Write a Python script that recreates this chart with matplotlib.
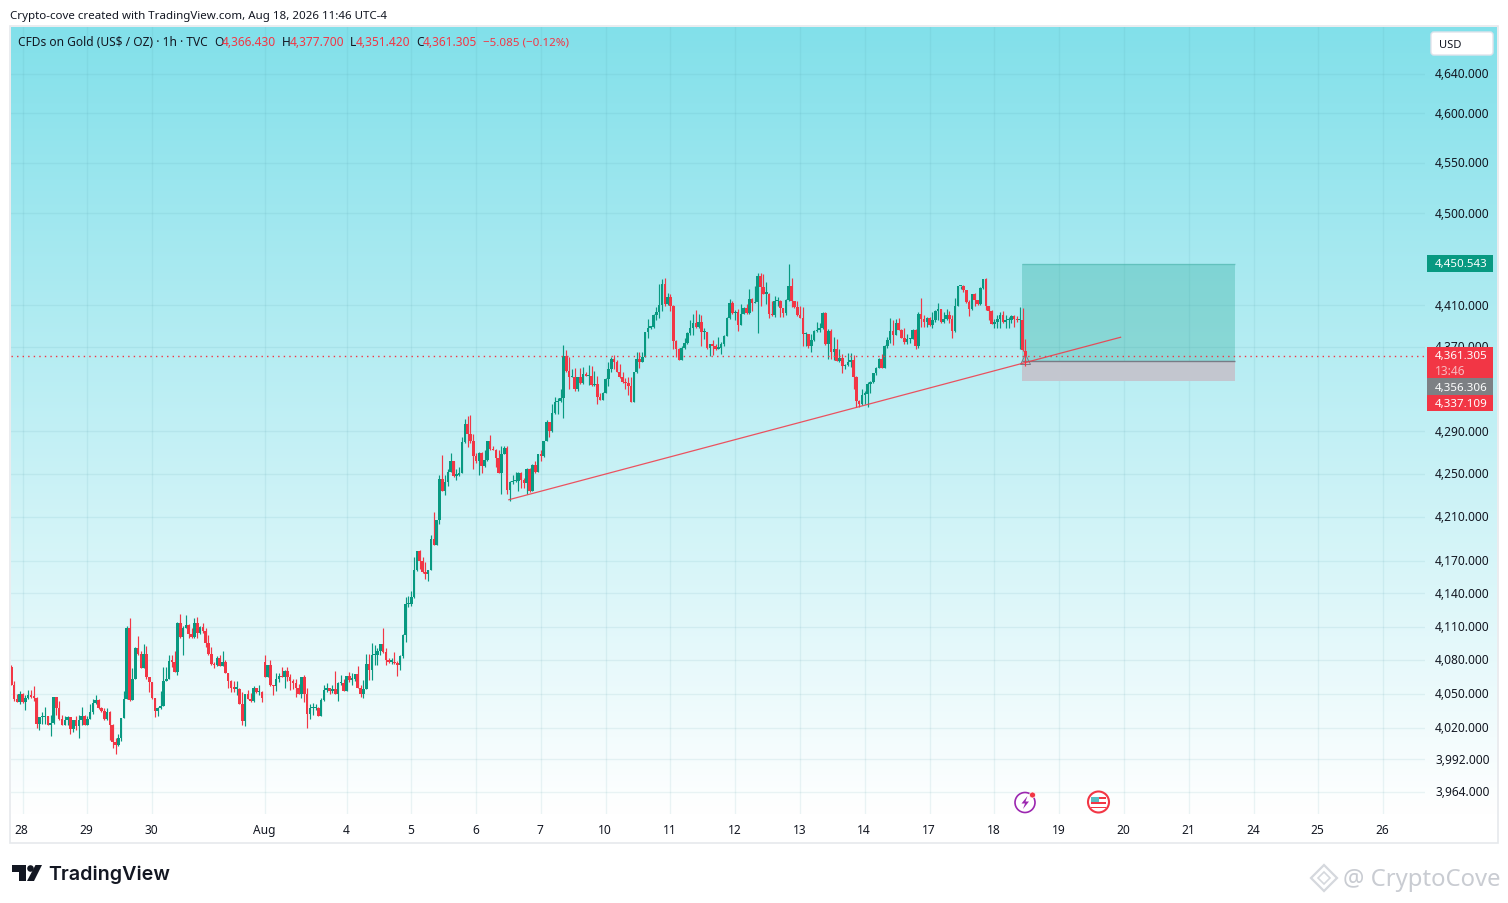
import numpy as np
import matplotlib
matplotlib.use("Agg")
import matplotlib.pyplot as plt
from matplotlib.patches import Rectangle, Circle, Polygon, FancyBboxPatch
from matplotlib.ticker import NullFormatter, NullLocator, FixedLocator, FixedFormatter
from matplotlib.transforms import ScaledTranslation

closes = [
 4056,4044,4041,4048,4041,4045,4047,4046,4045,4022, 4028,4028,4029,4021,4023,4046,4036,4026,4021,4025,
 4028,4017,4025,4020,4025,4029,4021,4026,4032,4040, 4043,4036,4033,4026,4032,4021,4006,4003,4009,4027,
 4044,4107,4043,4062,4089,4084,4071,4084,4063,4059, 4045,4033,4036,4038,4060,4062,4078,4077,4068,4112,
 4099,4107,4110,4102,4099,4112,4103,4108,4105,4094, 4084,4075,4074,4080,4073,4077,4067,4060,4054,4053,
 4053,4039,4024,4048,4044,4042,4054,4050,4050,4045, 4063,4074,4056,4055,4062,4064,4063,4069,4063,4060,
 4058,4054,4048,4063,4048,4031,4036,4036,4036,4029, 4043,4052,4054,4051,4053,4048,4058,4058,4051,4064,
 4061,4062,4066,4054,4048,4053,4075,4070,4083,4083, 4087,4093,4086,4079,4077,4077,4076,4074,4082,4101,
 4129,4129,4135,4160,4177,4168,4158,4156,4160,4188, 4183,4206,4244,4233,4241,4250,4261,4247,4248,4249,
 4278,4295,4286,4279,4265,4261,4268,4256,4262,4279, 4272,4271,4263,4249,4267,4273,4234,4241,4242,4242,
 4249,4243,4240,4253,4233,4257,4250,4267,4265,4279, 4297,4289,4306,4316,4317,4320,4360,4346,4340,4340,
 4328,4340,4334,4343,4341,4341,4332,4333,4321,4318, 4325,4338,4347,4357,4354,4345,4340,4335,4334,4331,
 4316,4345,4357,4354,4359,4383,4387,4388,4399,4402, 4409,4429,4410,4417,4408,4374,4367,4356,4368,4372,
 4382,4387,4392,4388,4393,4383,4383,4368,4371,4369, 4367,4368,4371,4379,4396,4411,4401,4402,4390,4400,
 4406,4401,4415,4411,4412,4437,4426,4420,4420,4400, 4399,4413,4413,4406,4401,4414,4427,4413,4407,4399,
 4396,4381,4381,4369,4375,4384,4385,4387,4401,4371, 4384,4364,4367,4355,4358,4350,4351,4354,4356,4340,
 4317,4314,4323,4324,4333,4335,4344,4348,4357,4348, 4369,4375,4384,4380,4392,4385,4377,4373,4376,4376,
 4385,4369,4400,4395,4393,4396,4390,4394,4403,4405, 4393,4395,4399,4395,4384,4408,4427,4427,4423,4412,
 4405,4420,4414,4410,4425,4434,4408,4403,4391,4393, 4395,4399,4393,4394,4394,4398,4395,4394,4394,4366,
 4361.305]
highs = [
 4074,4060,4048,4051,4049,4047,4052,4052,4055,4046, 4028,4032,4037,4029,4030,4046,4046,4042,4030,4029,
 4029,4028,4025,4029,4030,4037,4030,4029,4039,4044, 4047,4044,4037,4036,4036,4033,4022,4009,4013,4027,
 4051,4109,4116,4071,4090,4100,4087,4093,4091,4063, 4059,4045,4037,4051,4072,4072,4083,4083,4087,4113,
 4120,4109,4119,4111,4107,4116,4117,4109,4112,4107, 4101,4090,4077,4082,4083,4087,4079,4067,4061,4060,
 4060,4054,4050,4048,4052,4049,4055,4054,4056,4051, 4083,4074,4079,4056,4067,4067,4072,4070,4072,4066,
 4062,4062,4057,4063,4065,4054,4039,4040,4039,4037, 4045,4056,4058,4054,4056,4069,4059,4065,4062,4064,
 4068,4067,4066,4073,4056,4061,4084,4084,4094,4092, 4089,4093,4107,4089,4080,4080,4086,4078,4083,4102,
 4135,4136,4141,4172,4177,4178,4172,4167,4160,4192, 4213,4206,4248,4266,4248,4253,4268,4261,4253,4255,
 4283,4300,4303,4304,4286,4268,4269,4269,4271,4279, 4285,4275,4272,4271,4275,4275,4275,4242,4248,4250,
 4250,4250,4245,4254,4254,4258,4261,4267,4271,4279, 4299,4297,4314,4321,4320,4328,4370,4366,4359,4347,
 4348,4340,4348,4349,4345,4351,4350,4346,4341,4325, 4326,4339,4354,4359,4361,4356,4352,4345,4339,4340,
 4340,4345,4364,4364,4364,4383,4395,4389,4400,4407, 4429,4434,4435,4421,4420,4409,4375,4368,4369,4377,
 4383,4394,4400,4404,4400,4399,4387,4383,4371,4375, 4371,4378,4373,4380,4397,4415,4413,4404,4405,4410,
 4407,4410,4424,4416,4427,4440,4440,4439,4431,4421, 4413,4418,4417,4414,4406,4415,4449,4435,4413,4413,
 4408,4407,4383,4381,4381,4385,4393,4392,4402,4402, 4386,4386,4378,4376,4367,4362,4352,4363,4363,4361,
 4341,4318,4328,4327,4335,4336,4344,4349,4358,4362, 4370,4378,4396,4394,4395,4396,4386,4387,4381,4377,
 4386,4386,4402,4416,4399,4397,4397,4402,4404,4411, 4405,4402,4405,4403,4399,4416,4427,4427,4428,4423,
 4414,4420,4421,4414,4426,4434,4435,4408,4404,4395, 4399,4402,4403,4399,4397,4399,4399,4398,4407,4406,
 4377.7]
lows = [
 4056,4042,4041,4039,4040,4034,4044,4045,4042,4018, 4016,4022,4022,4021,4011,4022,4030,4025,4021,4021,
 4021,4013,4015,4016,4009,4021,4021,4021,4026,4031, 4039,4035,4032,4025,4025,4008,4001,3995,4002,4007,
 4027,4044,4042,4043,4063,4083,4071,4071,4062,4050, 4044,4028,4029,4035,4038,4060,4062,4072,4068,4065,
 4098,4083,4107,4098,4098,4098,4098,4102,4103,4090, 4083,4074,4071,4073,4073,4073,4067,4054,4050,4050,
 4047,4039,4021,4020,4044,4041,4041,4049,4047,4041, 4063,4063,4055,4047,4051,4059,4063,4054,4060,4052,
 4053,4046,4048,4045,4041,4018,4026,4030,4034,4029, 4029,4042,4050,4048,4049,4048,4042,4056,4051,4051,
 4059,4056,4060,4054,4046,4045,4053,4061,4061,4074, 4074,4083,4085,4074,4076,4075,4075,4064,4070,4080,
 4095,4126,4127,4134,4159,4161,4157,4152,4150,4160, 4183,4183,4202,4233,4229,4237,4250,4246,4243,4247,
 4249,4277,4274,4277,4253,4259,4248,4249,4255,4261, 4271,4271,4255,4249,4230,4267,4230,4223,4239,4241,
 4233,4235,4235,4230,4232,4233,4249,4250,4261,4264, 4279,4283,4288,4305,4305,4316,4301,4345,4328,4340,
 4327,4327,4333,4333,4341,4332,4331,4331,4314,4318, 4318,4325,4331,4345,4347,4345,4339,4334,4328,4323,
 4316,4317,4344,4348,4354,4359,4377,4386,4387,4394, 4396,4403,4408,4409,4403,4367,4359,4356,4356,4367,
 4371,4380,4380,4387,4387,4369,4376,4367,4360,4361, 4366,4367,4362,4369,4379,4395,4400,4394,4384,4392,
 4400,4400,4400,4403,4411,4382,4408,4420,4410,4396, 4398,4397,4408,4397,4397,4399,4413,4407,4406,4398,
 4396,4369,4369,4368,4364,4374,4383,4383,4386,4370, 4357,4357,4356,4355,4354,4344,4347,4350,4349,4328,
 4311,4311,4313,4314,4311,4325,4334,4342,4348,4348, 4348,4368,4372,4370,4380,4385,4377,4371,4371,4372,
 4381,4367,4368,4388,4388,4388,4389,4387,4393,4394, 4392,4392,4394,4392,4377,4383,4408,4424,4422,4411,
 4398,4404,4408,4409,4409,4424,4404,4394,4391,4387, 4387,4387,4392,4387,4387,4392,4388,4393,4367,4365,
 4351.42]
session_opens = {0: 4074, 90: 4078, 360: 4366.43}
reading_offset = 1.4   # calibration of the values read above against the true price scale

price_ticks = [4640,4600,4550,4500,4410,4370,4290,4250,4210,4170,4140,4110,4080,4050,4020,3992,3964]
date_pos = [4,27,50,90,119,142,165,188,211,234,257,280,303,326,349,372,395,418,441,464,487]
date_labels = ['28','29','30','Aug','4','5','6','7','10','11','12','13','14','17','18','19','20','21','24','25','26']

last_price = 4361.305
entry_price = 4356.306
target_price = 4450.543
stop_price = 4337.109
position_bars = (358.8, 434.4)
trend_bars = (176.4, 394.0)
trend_prices = (4225.8, 4379.4)

UP = '#089981'; DOWN = '#F23645'; INK = '#131722'
FONT = 'Noto Sans'
plt.rcParams['font.family'] = [FONT, 'DejaVu Sans']
FS = 8.6

W, H = 1508, 904
fig = plt.figure(figsize=(W/100, H/100), dpi=100, facecolor='white')

def rect(l, t, r, b):
    return [l/W, 1-b/H, (r-l)/W, (b-t)/H]

# panel background
bg = fig.add_axes(rect(11, 28, 1497, 843)); bg.set_axis_off()
top = np.array([130, 224, 234])/255; bot = np.array([255, 255, 255])/255
t = np.clip(np.linspace(0, 1, 400)*1.036, 0, 1)[:, None, None]
grad = top*(1-t) + bot*t
bg.imshow(grad, aspect='auto', extent=(0, 1, 0, 1), interpolation='bilinear')

# price chart
ax = fig.add_axes(rect(11, 28, 1425, 815), facecolor='none')
ax.set_yscale('log')
ax.set_xlim(-0.1, 501.85)
ax.set_ylim(3944.5, 4687.6)
ax.yaxis.tick_right()
ax.yaxis.set_major_locator(FixedLocator(price_ticks))
ax.yaxis.set_major_formatter(FixedFormatter([f'{v:,.3f}' for v in price_ticks]))
ax.yaxis.set_minor_locator(NullLocator()); ax.yaxis.set_minor_formatter(NullFormatter())
ax.set_xticks(date_pos); ax.set_xticklabels(date_labels)
ax.tick_params(axis='y', length=0, pad=7.2, labelsize=FS, labelcolor=INK)
ax.tick_params(axis='x', length=0, pad=6.3, labelsize=FS, labelcolor=INK)
for s in ax.spines.values():
    s.set_visible(False)
ax.grid(True, color='#4f9aa8', alpha=0.11, lw=1)
ax.set_axisbelow(True)
up_shift = ScaledTranslation(0, 1.5/100, fig.dpi_scale_trans)
for tk in ax.yaxis.get_major_ticks():
    tk.label2.set_transform(tk.label2.get_transform() + up_shift)
left_shift = ScaledTranslation(-0.8/100, 0, fig.dpi_scale_trans)
for lab in ax.get_xticklabels():
    lab.set_transform(lab.get_transform() + left_shift)

n = len(closes)
idx = np.arange(n)
c = np.array(closes, float) + reading_offset
h = np.array(highs, float) + reading_offset
l = np.array(lows, float) + reading_offset
c[-1], h[-1], l[-1] = closes[-1], highs[-1], lows[-1]
o = np.r_[c[0], c[:-1]]
for k, v in session_opens.items():
    o[k] = v
h = np.maximum.reduce([h, o, c]); l = np.minimum.reduce([l, o, c])
cols = np.where(c >= o, UP, DOWN)

# position tool
ax.fill_between(position_bars, entry_price, target_price, color=UP, alpha=0.25, lw=0, zorder=1.5)
ax.fill_between(position_bars, stop_price, entry_price, color='#c3c6cf', lw=0, zorder=1.5)
ax.plot(position_bars, [target_price]*2, color='#4fb5ae', lw=1, alpha=0.6, zorder=1.6, solid_capstyle='butt')
ax.plot(position_bars, [entry_price]*2, color='#787B86', lw=1, zorder=1.6, solid_capstyle='butt')

ax.vlines(idx, l, h, colors=cols, lw=0.85, zorder=3)
tops = np.maximum(o, c); bots = np.minimum(o, c)
ax.bar(idx, np.maximum(tops-bots, 1.2), bottom=bots, width=0.92, color=cols, lw=0, zorder=3.1)

ax.plot(trend_bars, trend_prices, color='#F23645', lw=0.9, alpha=0.85, zorder=4, solid_capstyle='butt')
ax.plot([360], [entry_price+2], marker='^', ms=7, mfc='none', mec='#787B86', mew=0.7, zorder=2.9)
ax.axhline(last_price, color=DOWN, lw=1, ls=(0, (1, 3)), zorder=4)

# overlay in pixels
ov = fig.add_axes([0, 0, 1, 1], facecolor='none'); ov.set_axis_off()
ov.set_xlim(0, W); ov.set_ylim(H, 0)

def ypx(v):
    return H - ax.transData.transform((0, v))[1]

ov.add_patch(Rectangle((10, 27), 1488, 817, fc='none', ec='#e6e9ec', lw=1.2))

def tag(v, color, ty, y0=None, y1=None):
    y = ypx(v)
    y0 = y-8.5 if y0 is None else y0
    y1 = y+8.5 if y1 is None else y1
    ov.add_patch(Rectangle((1427, y0), 66, y1-y0, fc=color, ec='none', zorder=5))
    ov.text(1435, ty, f'{v:,.3f}', color='white', fontsize=8.3, fontweight='bold', va='center', ha='left', zorder=6)

tag(target_price, UP, 264.3)
tag(last_price, DOWN, 357, 348, 379)
ov.text(1435, 371.5, '13:46', color='#f8b9bf', fontsize=FS, va='center', ha='left', zorder=6)
tag(entry_price, '#7d8084', 388.3, 379, 395.5)
tag(stop_price, DOWN, 405, 395.5, 412)

# USD button
ov.add_patch(FancyBboxPatch((1431, 33), 62, 23, boxstyle='round,pad=0,rounding_size=3', fc='white', ec='#e0e3eb', lw=1, zorder=5))
ov.text(1439, 45.5, 'USD', color=INK, fontsize=8, va='center', ha='left', zorder=6)

# header
ov.text(10, 16.5, 'Crypto-cove created with TradingView.com, Aug 18, 2026 11:46 UTC-4', color=INK, fontsize=8.3, va='center')
ov.text(18, 43, 'CFDs on Gold (US$ / OZ) · 1h · TVC', color=INK, fontsize=FS, va='center')
for x, s, col, fs in [(214, 'O', INK, FS), (222, '4,366.430', DOWN, FS), (282, 'H', INK, FS), (290, '4,377.700', DOWN, FS),
                      (350, 'L', INK, FS), (356, '4,351.420', DOWN, FS), (416, 'C', INK, FS), (423, '4,361.305', DOWN, FS),
                      (483, '−5.085 (−0.12%)', DOWN, 8.3)]:
    ov.text(x, 43, s, color=col, fontsize=fs, va='center')

# event icons
ov.add_patch(Circle((1025, 803.5), 10, fc='white', ec='#9c27b0', lw=1.2, zorder=5))
ov.add_patch(Polygon([(1027.5, 797), (1021.5, 804.5), (1025, 804.5), (1023, 810), (1029, 802.5), (1025.5, 802.5)],
                     closed=True, fc='#9c27b0', ec='none', zorder=6))
ov.add_patch(Circle((1032.5, 796), 3, fc=DOWN, ec='white', lw=0.5, zorder=6))
ov.add_patch(Circle((1098.5, 803), 10.5, fc='white', ec=DOWN, lw=1.5, zorder=5))
for y in (803, 807.5):
    ov.add_patch(Rectangle((1091, y), 15, 1.8, fc=DOWN, ec='none', zorder=6))
ov.add_patch(Rectangle((1091, 797.5), 8, 5, fc='#58bfc4', ec='none', zorder=6))
ov.add_patch(Rectangle((1099, 797.5), 7, 2, fc=DOWN, ec='none', zorder=6))

# TradingView logo
ov.add_patch(Polygon([(12, 866), (26, 866), (26, 882), (19, 882), (19, 872.5), (12, 872.5)], closed=True, fc=INK, ec='none'))
ov.add_patch(Circle((30.5, 869.5), 3.3, fc=INK, ec='none'))
ov.add_patch(Polygon([(35.5, 866), (42, 866), (34, 882), (27, 882)], closed=True, fc=INK, ec='none'))
ov.text(48, 874.5, 'TradingView', color=INK, fontsize=14.2, fontweight='semibold', family='Inter', va='center', ha='left')

# watermark
ov.add_patch(Polygon([(1324, 866), (1337, 879), (1324, 892), (1311, 879)], closed=True, fc='none', ec='#d5d8dd', lw=1.6))
ov.add_patch(Polygon([(1324, 873), (1330, 879), (1324, 885), (1318, 879)], closed=True, fc='none', ec='#d5d8dd', lw=1.2))
ov.text(1343, 880.5, '@ CryptoCove', color='#c9ccd2', fontsize=17.2, family='Noto Sans', va='center', ha='left')

fig.savefig('out.png', dpi=100, facecolor='white')
